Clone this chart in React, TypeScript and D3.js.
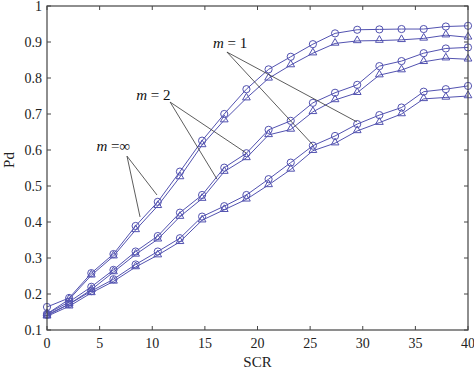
import React from "react";
import * as d3 from "d3";

const W = 474;
const H = 371;

const scr = d3.range(20).map((i) => (i * 40) / 19);

const mInfCircle = [0.164, 0.189, 0.258, 0.311, 0.389, 0.456, 0.540, 0.626, 0.700, 0.769, 0.824, 0.859, 0.894, 0.924, 0.934, 0.935, 0.936, 0.936, 0.943, 0.945];
const mInfTri = [0.145, 0.185, 0.252, 0.305, 0.378, 0.445, 0.525, 0.614, 0.683, 0.744, 0.799, 0.836, 0.869, 0.896, 0.903, 0.904, 0.906, 0.910, 0.919, 0.913];
const m2Circle = [0.145, 0.178, 0.220, 0.267, 0.318, 0.361, 0.426, 0.475, 0.551, 0.591, 0.656, 0.681, 0.731, 0.759, 0.781, 0.833, 0.847, 0.869, 0.882, 0.885];
const m2Tri = [0.140, 0.172, 0.212, 0.261, 0.310, 0.352, 0.415, 0.465, 0.540, 0.578, 0.642, 0.657, 0.706, 0.739, 0.759, 0.808, 0.822, 0.845, 0.855, 0.852];
const m1Circle = [0.142, 0.172, 0.208, 0.241, 0.282, 0.318, 0.355, 0.415, 0.444, 0.475, 0.519, 0.565, 0.612, 0.639, 0.672, 0.697, 0.718, 0.762, 0.769, 0.778];
const m1Tri = [0.138, 0.166, 0.203, 0.235, 0.275, 0.308, 0.345, 0.405, 0.434, 0.463, 0.503, 0.546, 0.598, 0.619, 0.653, 0.676, 0.700, 0.742, 0.746, 0.750];

const xTicks = [0, 5, 10, 15, 20, 25, 30, 35, 40];
const yTicks = [0.1, 0.2, 0.3, 0.4, 0.5, 0.6, 0.7, 0.8, 0.9, 1];

// annotation labels (data coordinates): text position, pointer origin, pointer targets
const annotations = [
  { label: "1", at: [17.4, 0.883], from: [17.1, 0.872], targets: [[29.45, 0.678], [25.27, 0.614]] },
  { label: "2", at: [10.1, 0.739], from: [11.7, 0.733], targets: [[16.15, 0.519], [18.91, 0.592]] },
  { label: "∞", at: [6.3, 0.597], from: [7.6, 0.583], targets: [[8.84, 0.414], [10.45, 0.475]] },
];

const margin = { left: 47, right: 6, top: 6, bottom: 41 };
const color = "#5252b0";
const font = "'Liberation Serif', 'Times New Roman', serif";

export default function App() {
  const x = d3.scaleLinear().domain([0, 40]).range([margin.left, W - margin.right]);
  const y = d3.scaleLinear().domain([0.1, 1]).range([H - margin.bottom, margin.top]);
  const line = d3.line<number>().x((_, i) => x(scr[i])).y((d) => y(d));

  const series = [
    { v: mInfCircle, m: "c" },
    { v: mInfTri, m: "t" },
    { v: m2Circle, m: "c" },
    { v: m2Tri, m: "t" },
    { v: m1Circle, m: "c" },
    { v: m1Tri, m: "t" },
  ];
  const triPath = d3.symbol().type(d3.symbolTriangle).size(26)();

  const x0 = x(0), x1 = x(40), y0 = y(0.1), y1 = y(1);
  return (
    <svg width={W} height={H} style={{ position: "absolute", left: 0, top: 0, background: "#fff" }}>
      <rect x={0} y={0} width={W} height={H} fill="#fff" />
      {series.map((s, si) => (
        <g key={si}>
          <path d={line(s.v) || ""} fill="none" stroke={color} strokeWidth={1} />
          {s.v.map((d, i) =>
            s.m === "c" ? (
              <circle key={i} cx={x(scr[i])} cy={y(d)} r={3.6} fill="none" stroke={color} strokeWidth={1} />
            ) : (
              <path key={i} d={triPath || ""} transform={`translate(${x(scr[i])},${y(d) - 0.5})`} fill="none" stroke={color} strokeWidth={1} />
            )
          )}
        </g>
      ))}
      {annotations.map((a, ai) => (
        <g key={ai}>
          {a.targets.map((t, ti) => (
            <line key={ti} x1={x(a.from[0])} y1={y(a.from[1])} x2={x(t[0])} y2={y(t[1])} stroke="#333" strokeWidth={0.8} />
          ))}
          <text x={x(a.at[0])} y={y(a.at[1])} fontFamily={font} fontSize={15} textAnchor="middle" fill="#111">
            <tspan fontStyle="italic">m</tspan>
            <tspan>{a.label === "∞" ? " =∞" : " = " + a.label}</tspan>
          </text>
        </g>
      ))}
      {/* frame */}
      <rect x={x0} y={y1} width={x1 - x0} height={y0 - y1} fill="none" stroke="#444" strokeWidth={1.2} />
      {xTicks.map((t) => (
        <g key={"x" + t}>
          <line x1={x(t)} x2={x(t)} y1={y0} y2={y0 - 4} stroke="#444" />
          <line x1={x(t)} x2={x(t)} y1={y1} y2={y1 + 4} stroke="#444" />
          <text x={x(t)} y={y0 + 18} fontFamily={font} fontSize={14} textAnchor="middle" fill="#222">{t}</text>
        </g>
      ))}
      {yTicks.map((t) => (
        <g key={"y" + t}>
          <line x1={x0} x2={x0 + 4} y1={y(t)} y2={y(t)} stroke="#444" />
          <line x1={x1} x2={x1 - 4} y1={y(t)} y2={y(t)} stroke="#444" />
          <text x={x0 - 5} y={y(t) + 5} fontFamily={font} fontSize={14} textAnchor="end" fill="#222">{d3.format("~g")(t)}</text>
        </g>
      ))}
      <text x={(x0 + x1) / 2} y={H - 4} fontFamily={font} fontSize={15} textAnchor="middle" fill="#222">SCR</text>
      <text transform={`translate(14,${(y0 + y1) / 2 - 8}) rotate(-90)`} fontFamily={font} fontSize={15} textAnchor="middle" fill="#222">Pd</text>
    </svg>
  );
}
